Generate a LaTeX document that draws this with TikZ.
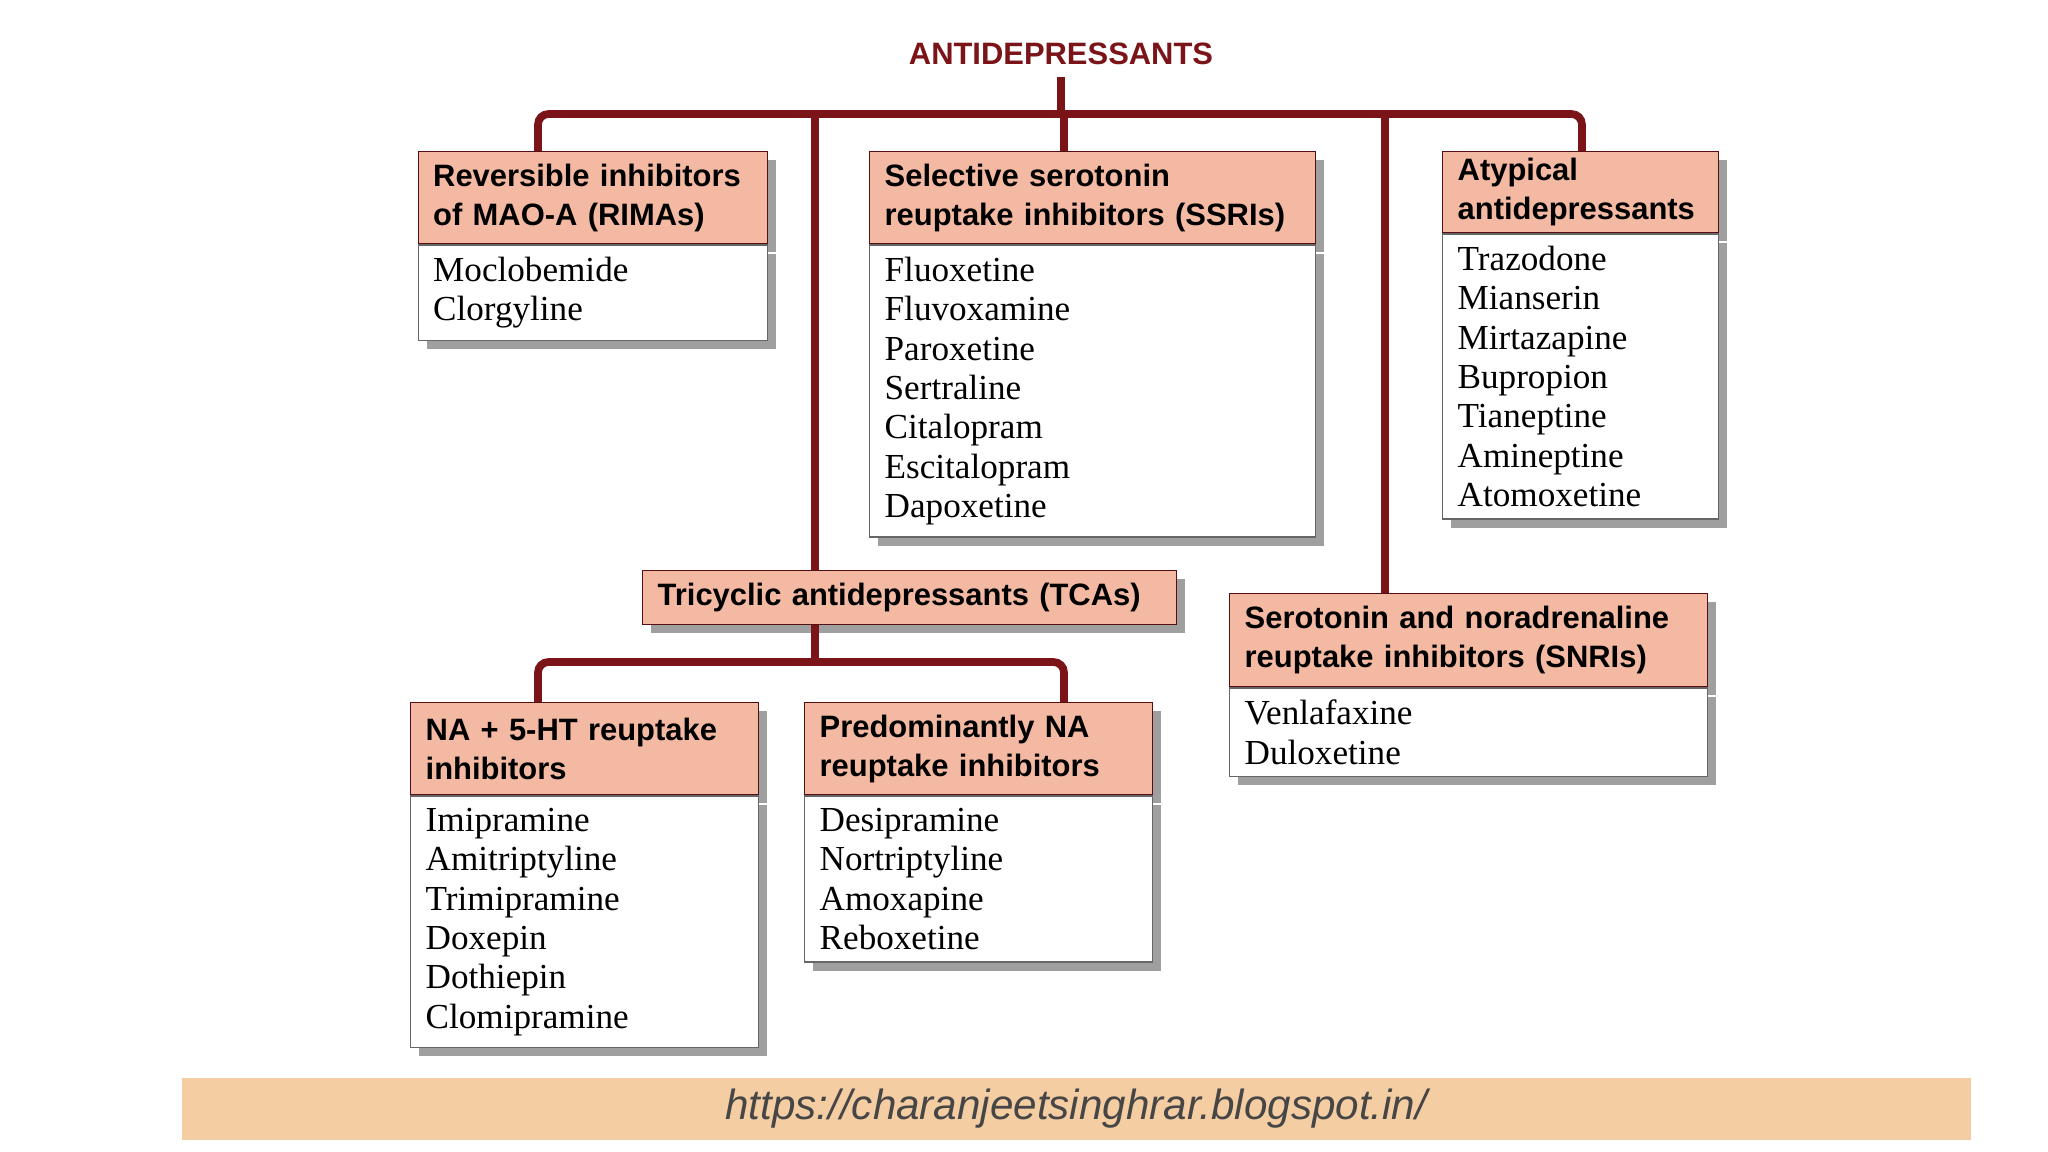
\documentclass[tikz,border=0pt]{standalone}
\usepackage{fontspec}
\setmainfont{Liberation Serif}
\setsansfont{Liberation Sans}
\usepackage{tikz}
\usetikzlibrary{positioning,shadows}
\definecolor{linkred}{HTML}{7A1418}
\definecolor{hdrfill}{HTML}{F4B9A2}
\definecolor{bannerfill}{HTML}{F5CDA3}
\tikzset{
  shade/.style={drop shadow={shadow xshift=2.5pt,shadow yshift=-2.5pt,fill=gray!75,opacity=1}},
  hdr/.style={rectangle,draw=linkred!70!black,fill=hdrfill,shade,anchor=north west,align=left,
    inner xsep=0.15cm,inner ysep=0.1cm,font=\sffamily\bfseries\fontsize{8.8}{11.2}\selectfont},
  body/.style={rectangle,draw=gray!80!black,fill=white,shade,anchor=north west,align=left,
    inner xsep=0.15cm,inner ysep=0.12cm,font=\fontsize{10}{11.2}\selectfont},
  link/.style={draw=linkred,line width=2.2pt}
}
\begin{document}
\begin{tikzpicture}
\useasboundingbox (0,0) rectangle (20.48,-11.52);
\node[font=\sffamily\bfseries\fontsize{8.8}{10}\selectfont,text=linkred](title) at (10.61,-0.54){ANTIDEPRESSANTS};
% top row
\node[hdr,text width=3.19cm,minimum height=0.92cm](rimah) at (4.175,-1.51){Reversible inhibitors\\of MAO-A (RIMAs)};
\node[body,text width=3.19cm,below=0pt of rimah.south west,anchor=north west](rimab){Moclobemide\\Clorgyline};
\node[hdr,text width=4.16cm,minimum height=0.92cm](ssrih) at (8.69,-1.51){Selective serotonin\\reuptake inhibitors (SSRIs)};
\node[body,text width=4.16cm,below=0pt of ssrih.south west,anchor=north west](ssrib){Fluoxetine\\Fluvoxamine\\Paroxetine\\Sertraline\\Citalopram\\Escitalopram\\Dapoxetine};
\node[hdr,text width=2.46cm,minimum height=0.81cm,inner ysep=0.05cm](atyph) at (14.42,-1.51){Atypical\\antidepressants};
\node[body,text width=2.46cm,below=0pt of atyph.south west,anchor=north west](atypb){Trazodone\\Mianserin\\Mirtazapine\\Bupropion\\Tianeptine\\Amineptine\\Atomoxetine};
% middle row
\node[hdr,text width=5.04cm,minimum height=0.54cm](tca) at (6.42,-5.70){Tricyclic antidepressants (TCAs)};
\node[hdr,text width=4.48cm,minimum height=0.93cm](snrih) at (12.29,-5.93){Serotonin and noradrenaline\\reuptake inhibitors (SNRIs)};
\node[body,text width=4.48cm,below=0pt of snrih.south west,anchor=north west](snrib){Venlafaxine\\Duloxetine};
% bottom row
\node[hdr,text width=3.18cm,minimum height=0.92cm](mixh) at (4.10,-7.02){NA + 5-HT reuptake\\inhibitors};
\node[body,text width=3.18cm,below=0pt of mixh.south west,anchor=north west](mixb){Imipramine\\Amitriptyline\\Trimipramine\\Doxepin\\Dothiepin\\Clomipramine};
\node[hdr,text width=3.18cm,minimum height=0.92cm](nah) at (8.04,-7.02){Predominantly NA\\reuptake inhibitors};
\node[body,text width=3.18cm,below=0pt of nah.south west,anchor=north west](nab){Desipramine\\Nortriptyline\\Amoxapine\\Reboxetine};
% connectors
\coordinate (busA) at (5.38,-1.14);
\coordinate (busB) at (8.15,-1.14);
\coordinate (busC) at (10.64,-1.14);
\coordinate (busD) at (13.85,-1.14);
\coordinate (busE) at (15.82,-1.14);
\coordinate (tbusA) at (5.38,-6.62);
\coordinate (tbusB) at (8.15,-6.62);
\coordinate (tbusC) at (10.64,-6.62);
\draw[link] (title.south) -- (title.south |- busC);
\draw[link,rounded corners=3pt] (busA |- rimah.north) -- (busA) -- (busE) -- (busE |- atyph.north);
\draw[link] (busB) -- (busB |- tca.north);
\draw[link] (busC) -- (busC |- ssrih.north);
\draw[link] (busD) -- (busD |- snrih.north);
\draw[link] (tbusB |- tca.south) -- (tbusB);
\draw[link,rounded corners=3pt] (tbusA |- mixh.north) -- (tbusA) -- (tbusC) -- (tbusC |- nah.north);
% banner
\node[rectangle,fill=bannerfill,minimum width=17.89cm,minimum height=0.56cm,anchor=north west,
  font=\sffamily\itshape\fontsize{12}{14}\selectfont,text=gray!55!black](url) at (1.81,-10.77){https://charanjeetsinghrar.blogspot.in/};
\end{tikzpicture}
\end{document}
